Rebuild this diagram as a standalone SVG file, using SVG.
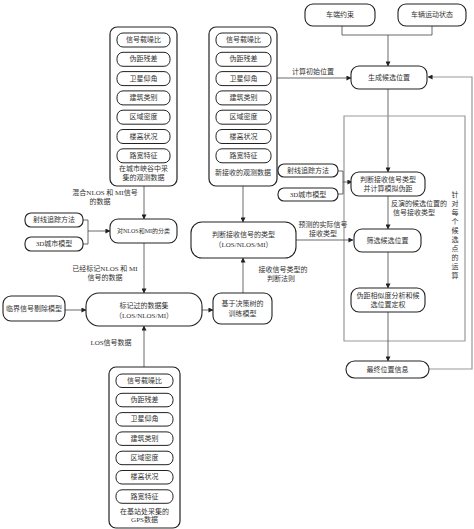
<svg xmlns="http://www.w3.org/2000/svg" width="474" height="529" viewBox="0 0 474 529">
<defs>
<marker id="ar" viewBox="0 0 6 6" refX="5.5" refY="3" markerWidth="5" markerHeight="5" orient="auto" markerUnits="userSpaceOnUse">
<path d="M0,0 L6,3 L0,6 Z" fill="#222"/>
</marker>
<style>
.n{fill:#fff;stroke:#222;stroke-width:1.1}
.c{fill:#fff;stroke:#222;stroke-width:1.2}
.i{fill:#fff;stroke:#222;stroke-width:1}
.t{font-family:"Liberation Serif","Noto Sans CJK SC",serif;font-size:7px;fill:#333;text-anchor:middle;dominant-baseline:central}
.s{font-size:6px}
.l{fill:none;stroke:#444;stroke-width:0.8}
.g{fill:none;stroke:#999;stroke-width:1.2}
.a{marker-end:url(#ar)}
</style>
</defs>
<rect width="474" height="529" fill="#fff"/>

<g id="connectors">
<path class="l" d="M342,26 V35 H432 V26"/>
<path class="l a" d="M388,35 V66"/>
<path class="l a" d="M277,78 H351"/>
<path class="l a" d="M388,89 V172"/>
<path class="g" d="M344,116 H465 V341 H344 Z"/>
<path class="g a" d="M429,369 H472 V77 H428"/>
<path class="l" d="M338,171 H343 V194 H338"/>
<path class="l a" d="M343,182 H352"/>
<path class="l a" d="M388,196 V229"/>
<path class="l a" d="M243,186 V222"/>
<path class="l a" d="M296,240 H353"/>
<path class="l a" d="M388,252 V288"/>
<path class="l a" d="M388,312 V361"/>
<path class="l a" d="M144,186 V219"/>
<path class="l" d="M83,220 H88 V244 H83"/>
<path class="l a" d="M88,231 H110"/>
<path class="l a" d="M144,243 V293"/>
<path class="l a" d="M65,310 H86"/>
<path class="l a" d="M202,310 H213"/>
<path class="l a" d="M243,293 V258"/>
<path class="l a" d="M144,367 V326"/>
</g>

<g id="labels">
<text class="t" x="313" y="72">计算初始位置</text>
<text class="t" x="105" y="193">混合NLOS 和 MI信号</text>
<text class="t" x="100" y="202">的数据</text>
<text class="t" x="105" y="269">已经标记NLOS 和 MI</text>
<text class="t" x="105" y="278">信号的数据</text>
<text class="t" x="111" y="343">LOS信号数据</text>
<text class="t" x="283" y="270">接收信号类型的</text>
<text class="t" x="281" y="279">判断法则</text>
<text class="t" x="323" y="225">预测的实际信号</text>
<text class="t" x="323" y="234">接收类型</text>
<text class="t" x="419" y="204">反演的候选位置的</text>
<text class="t" x="414" y="213">信号接收类型</text>
<g class="t">
<text class="t" x="455" y="195">针</text>
<text class="t" x="455" y="204">对</text>
<text class="t" x="455" y="213">每</text>
<text class="t" x="455" y="222">个</text>
<text class="t" x="455" y="231">候</text>
<text class="t" x="455" y="240">选</text>
<text class="t" x="455" y="249">点</text>
<text class="t" x="455" y="258">的</text>
<text class="t" x="455" y="267">运</text>
<text class="t" x="455" y="276">算</text>
</g>
</g>

<g id="container-urban">
<rect class="c" x="110" y="27" width="67" height="159" rx="7"/>
<rect class="i" x="117" y="33" width="53" height="14" rx="6"/><text class="t" x="143.5" y="40">信号载噪比</text>
<rect class="i" x="117" y="52.3" width="53" height="14" rx="6"/><text class="t" x="143.5" y="59.3">伪距残差</text>
<rect class="i" x="117" y="71.6" width="53" height="14" rx="6"/><text class="t" x="143.5" y="78.6">卫星仰角</text>
<rect class="i" x="117" y="90.9" width="53" height="14" rx="6"/><text class="t" x="143.5" y="97.9">建筑类别</text>
<rect class="i" x="117" y="110.2" width="53" height="14" rx="6"/><text class="t" x="143.5" y="117.2">区域密度</text>
<rect class="i" x="117" y="129.5" width="53" height="14" rx="6"/><text class="t" x="143.5" y="136.5">楼高状况</text>
<rect class="i" x="117" y="148.8" width="53" height="14" rx="6"/><text class="t" x="143.5" y="155.8">路宽特征</text>
<text class="t" x="143.5" y="169">在城市峡谷中采</text>
<text class="t" x="143.5" y="178">集的观测数据</text>
</g>

<g id="container-new">
<rect class="c" x="209" y="27" width="68" height="159" rx="7"/>
<rect class="i" x="216" y="33" width="55" height="14" rx="6"/><text class="t" x="243.5" y="40">信号载噪比</text>
<rect class="i" x="216" y="52.3" width="55" height="14" rx="6"/><text class="t" x="243.5" y="59.3">伪距残差</text>
<rect class="i" x="216" y="71.6" width="55" height="14" rx="6"/><text class="t" x="243.5" y="78.6">卫星仰角</text>
<rect class="i" x="216" y="90.9" width="55" height="14" rx="6"/><text class="t" x="243.5" y="97.9">建筑类别</text>
<rect class="i" x="216" y="110.2" width="55" height="14" rx="6"/><text class="t" x="243.5" y="117.2">区域密度</text>
<rect class="i" x="216" y="129.5" width="55" height="14" rx="6"/><text class="t" x="243.5" y="136.5">楼高状况</text>
<rect class="i" x="216" y="148.8" width="55" height="14" rx="6"/><text class="t" x="243.5" y="155.8">路宽特征</text>
<text class="t" x="243" y="173">新接收的观测数据</text>
</g>

<g id="container-gps">
<rect class="c" x="109" y="367" width="71" height="161" rx="7"/>
<rect class="i" x="116" y="374" width="57" height="13.5" rx="6"/><text class="t" x="144.5" y="380.8">信号载噪比</text>
<rect class="i" x="116" y="393.3" width="57" height="13.5" rx="6"/><text class="t" x="144.5" y="400.1">伪距残差</text>
<rect class="i" x="116" y="412.6" width="57" height="13.5" rx="6"/><text class="t" x="144.5" y="419.4">卫星仰角</text>
<rect class="i" x="116" y="431.9" width="57" height="13.5" rx="6"/><text class="t" x="144.5" y="438.7">建筑类别</text>
<rect class="i" x="116" y="451.2" width="57" height="13.5" rx="6"/><text class="t" x="144.5" y="458">区域密度</text>
<rect class="i" x="116" y="470.5" width="57" height="13.5" rx="6"/><text class="t" x="144.5" y="477.3">楼高状况</text>
<rect class="i" x="116" y="489.8" width="57" height="13.5" rx="6"/><text class="t" x="144.5" y="496.6">路宽特征</text>
<text class="t" x="144.5" y="512">在基站处采集的</text>
<text class="t" x="144.5" y="520">GPS数据</text>
</g>

<g id="node-chuduan"><rect class="n" x="305" y="4" width="70" height="22" rx="8"/><text class="t" x="340" y="15">车端约束</text></g>
<g id="node-cheliang"><rect class="n" x="398" y="4" width="68" height="22" rx="8"/><text class="t" x="432" y="15">车辆运动状态</text></g>
<g id="node-shengcheng"><rect class="n" x="351" y="66" width="76" height="23" rx="8"/><text class="t" x="389" y="77.5">生成候选位置</text></g>
<g id="node-raytrace-r"><rect class="n" x="278" y="164" width="60" height="13" rx="6"/><text class="t" x="308" y="170.5">射线追踪方法</text></g>
<g id="node-3d-r"><rect class="n" x="278" y="188" width="60" height="13" rx="6"/><text class="t" x="308" y="194.5">3D城市模型</text></g>
<g id="node-panduan-wj"><rect class="n" x="351" y="172" width="74" height="24" rx="8"/><text class="t" x="388" y="179.5">判断接收信号类型</text><text class="t" x="388" y="188.5">并计算模拟伪距</text></g>
<g id="node-panduan"><rect class="n" x="191" y="222" width="105" height="36" rx="11"/><text class="t" x="243.5" y="235">判断接收信号的类型</text><text class="t" x="243.5" y="245">（LOS/NLOS/MI）</text></g>
<g id="node-shaixuan"><rect class="n" x="354" y="229" width="67" height="23" rx="8"/><text class="t" x="387.5" y="240.5">筛选候选位置</text></g>
<g id="node-weiju"><rect class="n" x="351" y="288" width="74" height="24" rx="8"/><text class="t" x="388" y="295.5">伪距相似度分析和候</text><text class="t" x="388" y="304.5">选位置定权</text></g>
<g id="node-final"><rect class="n" x="346" y="361" width="83" height="17" rx="8.5"/><text class="t" x="387.5" y="369.5">最终位置信息</text></g>
<g id="node-classify"><rect class="n" x="110" y="219" width="67" height="24" rx="8"/><text class="t s" x="143.5" y="231">对NLOS和MI的分类</text></g>
<g id="node-raytrace-l"><rect class="n" x="25" y="213" width="58" height="14" rx="6"/><text class="t" x="54" y="220">射线追踪方法</text></g>
<g id="node-3d-l"><rect class="n" x="25" y="237" width="58" height="14" rx="6"/><text class="t" x="54" y="244">3D城市模型</text></g>
<g id="node-dataset"><rect class="n" x="86" y="293" width="116" height="33" rx="13"/><text class="t" x="144" y="305.5">标记过的数据集</text><text class="t" x="144" y="315.5">（LOS/NLOS/MI）</text></g>
<g id="node-linjie"><rect class="n" x="3" y="296" width="62" height="25" rx="8"/><text class="t" x="34" y="308.5">临界信号剔除模型</text></g>
<g id="node-tree"><rect class="n" x="213" y="293" width="59" height="31" rx="8"/><text class="t" x="242.5" y="304">基于决策树的</text><text class="t" x="242.5" y="314">训练模型</text></g>
</svg>
